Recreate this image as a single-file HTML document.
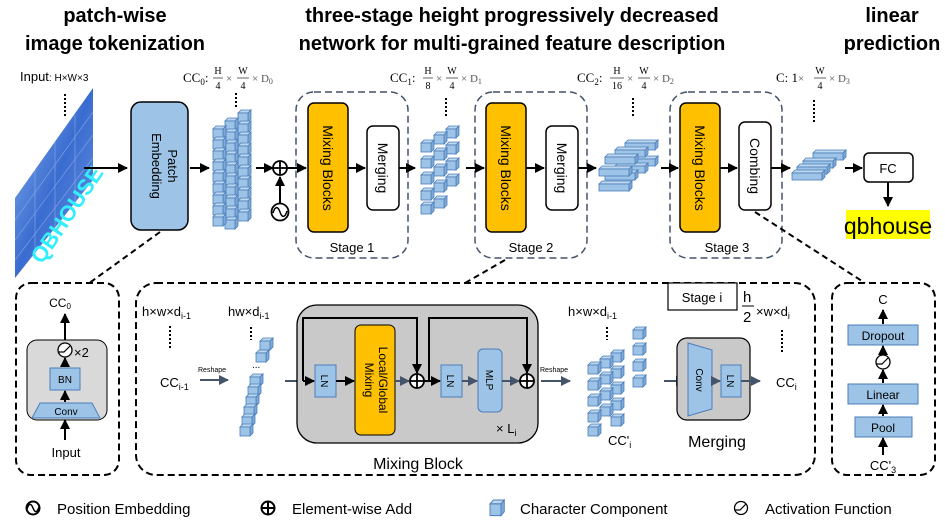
<!DOCTYPE html>
<html><head><meta charset="utf-8"><style>
html,body{margin:0;padding:0;background:#fff;}
svg{display:block;font-family:"Liberation Sans",sans-serif;}
.s{font-family:"Liberation Serif",serif;}
</style></head><body>
<svg width="945" height="525" viewBox="0 0 945 525" xmlns="http://www.w3.org/2000/svg">
<defs>
<marker id="ar" viewBox="0 0 10 10" refX="9" refY="5" markerWidth="5" markerHeight="5" orient="auto"><path d="M0,0L10,5L0,10z" fill="#000"/></marker>
<marker id="ag" viewBox="0 0 10 10" refX="9" refY="5" markerWidth="5" markerHeight="5" orient="auto"><path d="M0,0L10,5L0,10z" fill="#44546a"/></marker>
<g id="cb"><polygon points="0,3 3,0 13,0 10,3" fill="#bdd7ee" stroke="#4a7ebb" stroke-width="0.8"/><polygon points="10,3 13,0 13,9 10,12" fill="#7fa9d6" stroke="#4a7ebb" stroke-width="0.8"/><rect x="0" y="3" width="10" height="9" fill="#9dc3e6" stroke="#4a7ebb" stroke-width="0.8"/></g>
<g id="br"><polygon points="0,3 3,0 33,0 30,3" fill="#bdd7ee" stroke="#4a7ebb" stroke-width="0.8"/><polygon points="30,3 33,0 33,7 30,10" fill="#7fa9d6" stroke="#4a7ebb" stroke-width="0.8"/><rect x="0" y="3" width="30" height="7" fill="#9dc3e6" stroke="#4a7ebb" stroke-width="0.8"/></g>
<linearGradient id="ig" x1="0" y1="0" x2="1" y2="1"><stop offset="0" stop-color="#8ab4ee"/><stop offset="0.5" stop-color="#3a6cd0"/><stop offset="1" stop-color="#6d96e0"/></linearGradient>
</defs>

<g font-weight="bold" font-size="20" text-anchor="middle" fill="#000">
<text x="115" y="22">patch-wise</text>
<text x="115" y="50">image tokenization</text>
<text x="512" y="22">three-stage height progressively decreased</text>
<text x="512" y="50">network for multi-grained feature description</text>
<text x="892" y="22">linear</text>
<text x="892" y="50">prediction</text>
</g>

<text x="20" y="81" font-size="13">Input<tspan font-size="10">: H×W×3</tspan></text>
<line x1="65" y1="94" x2="65" y2="117" stroke="#000" stroke-width="2" stroke-dasharray="2,2"/>
<polygon points="15,198 93,88 93,180 15,278" fill="url(#ig)"/>
<g stroke="#a8c4ef" stroke-width="0.6" opacity="0.7"><line x1="15" y1="220" x2="93" y2="112"/><line x1="15" y1="240" x2="93" y2="135"/><line x1="15" y1="260" x2="93" y2="158"/><line x1="35" y1="170" x2="35" y2="255"/><line x1="55" y1="142" x2="55" y2="230"/><line x1="75" y1="115" x2="75" y2="205"/></g>
<text x="0" y="0" font-size="22" font-weight="bold" fill="#33eeff" transform="translate(42,265) rotate(-56)">QBHOUSE</text>
<line x1="84" y1="168" x2="127" y2="168" stroke="#000" stroke-width="2" marker-end="url(#ar)"/>

<rect x="131" y="102" width="57" height="128" rx="10" fill="#9dc3e6" stroke="#000" stroke-width="1.5"/>
<g font-size="13" text-anchor="middle"><text transform="translate(162,166) rotate(90)" y="-6">Patch</text><text transform="translate(162,166) rotate(90)" y="10">Embedding</text></g>
<line x1="190" y1="168" x2="209" y2="168" stroke="#000" stroke-width="2" marker-end="url(#ar)"/>

<g class="s" font-size="13"><text x="183" y="82">CC<tspan font-size="9" dy="3">0</tspan><tspan dy="-3">:</tspan></text>
<text x="218" y="74" font-size="10" text-anchor="middle">H</text><line x1="213" y1="78" x2="223" y2="78" stroke="#000" stroke-width="0.6"/><text x="218" y="89" font-size="10" text-anchor="middle">4</text>
<text x="226" y="82" font-size="11" fill="#555">×</text>
<text x="243" y="74" font-size="10" text-anchor="middle">W</text><line x1="237" y1="78" x2="249" y2="78" stroke="#000" stroke-width="0.6"/><text x="243" y="89" font-size="10" text-anchor="middle">4</text>
<text x="252" y="82" font-size="11" fill="#555">× D<tspan font-size="8" dy="2">0</tspan></text></g>
<line x1="236" y1="93" x2="236" y2="108" stroke="#000" stroke-width="2" stroke-dasharray="2,2"/>
<g>
<use href="#cb" x="238" y="110"/><use href="#cb" x="238" y="121"/><use href="#cb" x="238" y="132"/><use href="#cb" x="238" y="143"/><use href="#cb" x="238" y="154"/><use href="#cb" x="238" y="165"/><use href="#cb" x="238" y="176"/><use href="#cb" x="238" y="187"/><use href="#cb" x="238" y="198"/><use href="#cb" x="238" y="209"/>
<use href="#cb" x="225" y="118"/><use href="#cb" x="225" y="129"/><use href="#cb" x="225" y="140"/><use href="#cb" x="225" y="151"/><use href="#cb" x="225" y="162"/><use href="#cb" x="225" y="173"/><use href="#cb" x="225" y="184"/><use href="#cb" x="225" y="195"/><use href="#cb" x="225" y="206"/><use href="#cb" x="225" y="217"/>
<use href="#cb" x="213" y="126"/><use href="#cb" x="213" y="137"/><use href="#cb" x="213" y="148"/><use href="#cb" x="213" y="159"/><use href="#cb" x="213" y="170"/><use href="#cb" x="213" y="181"/><use href="#cb" x="213" y="192"/><use href="#cb" x="213" y="203"/><use href="#cb" x="213" y="214"/>
</g>
<line x1="256" y1="168" x2="273" y2="168" stroke="#000" stroke-width="2" marker-end="url(#ar)"/>
<circle cx="280" cy="168" r="7" fill="#fff" stroke="#000" stroke-width="1.8"/><line x1="273" y1="168" x2="287" y2="168" stroke="#000" stroke-width="1.8"/><line x1="280" y1="161" x2="280" y2="175" stroke="#000" stroke-width="1.8"/>
<circle cx="280" cy="212" r="8.5" fill="#fff" stroke="#000" stroke-width="1.8"/><path d="M273,213 C275,206 278,206 280,212 C282,218 285,218 287,211" fill="none" stroke="#000" stroke-width="1.5"/>
<line x1="280" y1="203" x2="280" y2="177" stroke="#000" stroke-width="2" marker-end="url(#ar)"/>
<line x1="287" y1="168" x2="306" y2="168" stroke="#000" stroke-width="2" marker-end="url(#ar)"/>

<g fill="none" stroke="#44546a" stroke-width="1.5" stroke-dasharray="7,4">
<rect x="296" y="92" width="112" height="166" rx="18"/>
<rect x="475" y="92" width="112" height="166" rx="18"/>
<rect x="670" y="92" width="112" height="166" rx="18"/>
</g>
<g fill="#ffc000" stroke="#000" stroke-width="1.5">
<rect x="308" y="103" width="40" height="129" rx="6"/>
<rect x="486" y="103" width="40" height="129" rx="6"/>
<rect x="680" y="103" width="40" height="129" rx="6"/>
</g>
<g fill="#fff" stroke="#000" stroke-width="1.5">
<rect x="367" y="126" width="32" height="84" rx="6"/>
<rect x="546" y="126" width="32" height="84" rx="6"/>
<rect x="739" y="122" width="32" height="88" rx="6"/>
</g>
<g font-size="14" text-anchor="middle">
<text transform="translate(328,168) rotate(90)" y="5">Mixing  Blocks</text>
<text transform="translate(506,168) rotate(90)" y="5">Mixing  Blocks</text>
<text transform="translate(700,168) rotate(90)" y="5">Mixing  Blocks</text>
<text transform="translate(383,168) rotate(90)" y="5">Merging</text>
<text transform="translate(562,168) rotate(90)" y="5">Merging</text>
<text transform="translate(755,166) rotate(90)" y="5">Combing</text>
<text x="352" y="252" font-size="13">Stage 1</text>
<text x="531" y="252" font-size="13">Stage 2</text>
<text x="727" y="252" font-size="13">Stage 3</text>
</g>
<g stroke="#000" stroke-width="2">
<line x1="348" y1="168" x2="365" y2="168" marker-end="url(#ar)"/>
<line x1="399" y1="168" x2="415" y2="168" marker-end="url(#ar)"/>
<line x1="466" y1="168" x2="484" y2="168" marker-end="url(#ar)"/>
<line x1="526" y1="168" x2="544" y2="168" marker-end="url(#ar)"/>
<line x1="578" y1="168" x2="596" y2="168" marker-end="url(#ar)"/>
<line x1="661" y1="168" x2="678" y2="168" marker-end="url(#ar)"/>
<line x1="720" y1="168" x2="737" y2="168" marker-end="url(#ar)"/>
<line x1="771" y1="168" x2="790" y2="168" marker-end="url(#ar)"/>
<line x1="845" y1="168" x2="862" y2="168" marker-end="url(#ar)"/>
<line x1="888" y1="182" x2="888" y2="206" marker-end="url(#ar)"/>
</g>

<g class="s" font-size="13"><text x="390" y="82">CC<tspan font-size="9" dy="3">1</tspan><tspan dy="-3">:</tspan></text>
<text x="428" y="74" font-size="10" text-anchor="middle">H</text><line x1="423" y1="78" x2="433" y2="78" stroke="#000" stroke-width="0.6"/><text x="428" y="89" font-size="10" text-anchor="middle">8</text>
<text x="436" y="82" font-size="11" fill="#555">×</text>
<text x="452" y="74" font-size="10" text-anchor="middle">W</text><line x1="446" y1="78" x2="458" y2="78" stroke="#000" stroke-width="0.6"/><text x="452" y="89" font-size="10" text-anchor="middle">4</text>
<text x="461" y="82" font-size="11" fill="#555">× D<tspan font-size="8" dy="2">1</tspan></text></g>
<line x1="446" y1="98" x2="446" y2="117" stroke="#000" stroke-width="2" stroke-dasharray="2,2"/>
<g>
<use href="#cb" x="446" y="126"/><use href="#cb" x="446" y="142"/><use href="#cb" x="446" y="158"/><use href="#cb" x="446" y="174"/>
<use href="#cb" x="434" y="132"/><use href="#cb" x="434" y="148"/><use href="#cb" x="434" y="164"/><use href="#cb" x="434" y="180"/><use href="#cb" x="434" y="196"/>
<use href="#cb" x="421" y="140"/><use href="#cb" x="421" y="156"/><use href="#cb" x="421" y="172"/><use href="#cb" x="421" y="188"/><use href="#cb" x="421" y="202"/>
</g>

<g class="s" font-size="13"><text x="577" y="82">CC<tspan font-size="9" dy="3">2</tspan><tspan dy="-3">:</tspan></text>
<text x="617" y="74" font-size="10" text-anchor="middle">H</text><line x1="610" y1="78" x2="624" y2="78" stroke="#000" stroke-width="0.6"/><text x="617" y="89" font-size="10" text-anchor="middle">16</text>
<text x="627" y="82" font-size="11" fill="#555">×</text>
<text x="644" y="74" font-size="10" text-anchor="middle">W</text><line x1="638" y1="78" x2="650" y2="78" stroke="#000" stroke-width="0.6"/><text x="644" y="89" font-size="10" text-anchor="middle">4</text>
<text x="653" y="82" font-size="11" fill="#555">× D<tspan font-size="8" dy="2">2</tspan></text></g>
<line x1="633" y1="98" x2="633" y2="118" stroke="#000" stroke-width="2" stroke-dasharray="2,2"/>
<g>
<use href="#br" x="625" y="140"/><use href="#br" x="625" y="156"/>
<use href="#br" x="615" y="147"/><use href="#br" x="615" y="163"/>
<use href="#br" x="605" y="154"/><use href="#br" x="605" y="170"/>
<use href="#br" x="599" y="166"/><use href="#br" x="599" y="181"/>
</g>

<g class="s" font-size="13"><text x="776" y="82">C: 1<tspan font-size="11" fill="#555">×</tspan></text>
<text x="820" y="74" font-size="10" text-anchor="middle">W</text><line x1="814" y1="78" x2="826" y2="78" stroke="#000" stroke-width="0.6"/><text x="820" y="89" font-size="10" text-anchor="middle">4</text>
<text x="829" y="82" font-size="11" fill="#555">× D<tspan font-size="8" dy="2">3</tspan></text></g>
<line x1="814" y1="100" x2="814" y2="124" stroke="#000" stroke-width="2" stroke-dasharray="2,2"/>
<g><use href="#br" x="813" y="150"/><use href="#br" x="803" y="158"/><use href="#br" x="797" y="164"/><use href="#br" x="792" y="170"/></g>

<rect x="864" y="153" width="49" height="29" rx="5" fill="#fff" stroke="#000" stroke-width="1.5"/>
<text x="888" y="173" font-size="13" text-anchor="middle">FC</text>
<rect x="846" y="210" width="84" height="29" fill="#ffff00"/>
<text x="888" y="234" font-size="23" text-anchor="middle">qbhouse</text>

<g stroke="#000" stroke-width="2" stroke-dasharray="6,4" fill="none">
<line x1="160" y1="232" x2="88" y2="284"/>
<line x1="505" y1="260" x2="465" y2="283"/>
<line x1="755" y1="212" x2="865" y2="283"/>
</g>

<g fill="none" stroke="#000" stroke-width="2" stroke-dasharray="7,4">
<rect x="16" y="283" width="103" height="192" rx="15"/>
<rect x="136" y="283" width="679" height="192" rx="20"/>
<rect x="832" y="283" width="103" height="192" rx="15"/>
</g>

<text x="60" y="307" font-size="12" text-anchor="middle">CC<tspan font-size="8" dy="2">0</tspan></text>
<rect x="27" y="340" width="80" height="80" rx="10" fill="#d9d9d9" stroke="#000" stroke-width="1"/>
<line x1="65" y1="340" x2="65" y2="314" stroke="#000" stroke-width="2" marker-end="url(#ar)"/>
<circle cx="65" cy="350" r="7" fill="#fff" stroke="#000" stroke-width="1.3"/><path d="M58,352 L64,352 L70,346" fill="none" stroke="#000" stroke-width="1.2"/>
<text x="74" y="357" font-size="13">×2</text>
<rect x="50" y="368" width="30" height="22" fill="#9dc3e6" stroke="#4a7ebb"/>
<text x="65" y="383" font-size="10" text-anchor="middle">BN</text>
<polygon points="32,418 100,418 92,403 40,403" fill="#9dc3e6" stroke="#4a7ebb"/>
<text x="66" y="415" font-size="10" text-anchor="middle">Conv</text>
<g stroke="#000" stroke-width="2"><line x1="65" y1="367" x2="65" y2="358" marker-end="url(#ar)"/><line x1="65" y1="402" x2="65" y2="391" marker-end="url(#ar)"/><line x1="65" y1="440" x2="65" y2="420" marker-end="url(#ar)"/></g>
<text x="66" y="457" font-size="13" text-anchor="middle">Input</text>

<text x="142" y="316" font-size="13">h×w×d<tspan font-size="9" dy="3">i-1</tspan></text>
<text x="228" y="316" font-size="13">hw×d<tspan font-size="9" dy="3">i-1</tspan></text>
<line x1="170" y1="326" x2="170" y2="350" stroke="#000" stroke-width="2" stroke-dasharray="2,2"/>
<line x1="251" y1="327" x2="251" y2="340" stroke="#000" stroke-width="2" stroke-dasharray="2,2"/>
<text x="160" y="387" font-size="13">CC<tspan font-size="9" dy="3">i-1</tspan></text>
<text x="198" y="372" font-size="7">Reshape</text>
<line x1="200" y1="380" x2="228" y2="380" stroke="#44546a" stroke-width="2" marker-end="url(#ag)"/>
<g><use href="#cb" x="260" y="338"/><use href="#cb" x="256" y="350"/><text x="252" y="368" font-size="10">...</text>
<use href="#cb" x="250" y="374"/><use href="#cb" x="248" y="384"/><use href="#cb" x="246" y="394"/><use href="#cb" x="244" y="404"/><use href="#cb" x="242" y="414"/><use href="#cb" x="240" y="424"/></g>
<line x1="285" y1="381" x2="298" y2="381" stroke="#44546a" stroke-width="2"/>

<rect x="297" y="305" width="241" height="138" rx="20" fill="#c9c9c9" stroke="#000" stroke-width="1.3"/>
<text x="418" y="469" font-size="16" text-anchor="middle">Mixing Block</text>
<rect x="315" y="365" width="21" height="32" fill="#9dc3e6" stroke="#4a7ebb"/>
<text transform="translate(325,381) rotate(90)" y="4" font-size="10" text-anchor="middle">LN</text>
<rect x="355" y="325" width="40" height="110" rx="6" fill="#ffc000" stroke="#000" stroke-width="1"/>
<text transform="translate(375,380) rotate(90)" font-size="12" text-anchor="middle"><tspan x="0" y="-4">Local/Global</tspan><tspan x="0" y="10">Mixing</tspan></text>
<rect x="441" y="365" width="21" height="32" fill="#9dc3e6" stroke="#4a7ebb"/>
<text transform="translate(451,381) rotate(90)" y="4" font-size="10" text-anchor="middle">LN</text>
<rect x="478" y="349" width="24" height="63" rx="5" fill="#9dc3e6" stroke="#4a7ebb"/>
<text transform="translate(490,380) rotate(90)" y="4" font-size="10" text-anchor="middle">MLP</text>
<g stroke="#000" stroke-width="2" fill="none">
<polyline points="303,381 303,318 417,318 417,373" marker-end="url(#ar)"/>
<polyline points="429,381 429,318 527,318 527,373" marker-end="url(#ar)"/>
<line x1="303" y1="381" x2="314" y2="381" marker-end="url(#ar)"/>
<line x1="336" y1="381" x2="354" y2="381" marker-end="url(#ar)"/>
<line x1="424" y1="381" x2="440" y2="381" marker-end="url(#ar)"/>
</g>
<g stroke="#44546a" stroke-width="2"><line x1="395" y1="381" x2="409" y2="381" marker-end="url(#ag)"/><line x1="462" y1="381" x2="477" y2="381" marker-end="url(#ag)"/><line x1="502" y1="381" x2="519" y2="381" marker-end="url(#ag)"/></g>
<g fill="#fff" stroke="#000" stroke-width="1.8">
<circle cx="417" cy="381" r="7"/><circle cx="527" cy="381" r="7"/>
</g>
<g stroke="#000" stroke-width="1.8"><line x1="410" y1="381" x2="424" y2="381"/><line x1="417" y1="374" x2="417" y2="388"/><line x1="520" y1="381" x2="534" y2="381"/><line x1="527" y1="374" x2="527" y2="388"/></g>
<text x="496" y="433" font-size="13">× L<tspan font-size="9" dy="3">i</tspan></text>

<text x="540" y="372" font-size="7">Reshape</text>
<line x1="541" y1="381" x2="570" y2="381" stroke="#44546a" stroke-width="2" marker-end="url(#ag)"/>
<text x="568" y="316" font-size="13">h×w×d<tspan font-size="9" dy="3">i-1</tspan></text>
<line x1="607" y1="327" x2="607" y2="340" stroke="#000" stroke-width="2" stroke-dasharray="2,2"/>
<g>
<use href="#cb" x="633" y="327"/><use href="#cb" x="633" y="343"/><use href="#cb" x="633" y="359"/><use href="#cb" x="633" y="375"/>
<use href="#cb" x="611" y="350"/><use href="#cb" x="611" y="366"/><use href="#cb" x="611" y="382"/><use href="#cb" x="611" y="398"/><use href="#cb" x="611" y="414"/>
<use href="#cb" x="600" y="356"/><use href="#cb" x="600" y="372"/><use href="#cb" x="600" y="388"/><use href="#cb" x="600" y="404"/>
<use href="#cb" x="588" y="362"/><use href="#cb" x="588" y="378"/><use href="#cb" x="588" y="394"/><use href="#cb" x="588" y="410"/><use href="#cb" x="588" y="424"/>
</g>
<text x="608" y="445" font-size="13">CC'<tspan font-size="9" dy="3">i</tspan></text>
<rect x="668" y="283" width="69" height="27" fill="#fff" stroke="#000" stroke-width="1.2"/>
<text x="702" y="302" font-size="13" text-anchor="middle">Stage i</text>
<text x="743" y="302" font-size="15">h</text><line x1="742" y1="306" x2="754" y2="306" stroke="#000"/><text x="743" y="322" font-size="15">2</text>
<text x="756" y="316" font-size="13">×w×d<tspan font-size="9" dy="3">i</tspan></text>
<line x1="782" y1="330" x2="782" y2="352" stroke="#000" stroke-width="2" stroke-dasharray="2,2"/>
<line x1="664" y1="381" x2="685" y2="381" stroke="#44546a" stroke-width="2" marker-end="url(#ag)"/>
<rect x="677" y="338" width="73" height="82" rx="10" fill="#c9c9c9" stroke="#000" stroke-width="1.2"/>
<polygon points="688,343 712,350 712,409 688,416" fill="#9dc3e6" stroke="#4a7ebb"/>
<text transform="translate(700,380) rotate(90)" y="4" font-size="10" text-anchor="middle">Conv</text>
<rect x="721" y="365" width="20" height="32" fill="#9dc3e6" stroke="#4a7ebb"/>
<text transform="translate(731,381) rotate(90)" y="4" font-size="10" text-anchor="middle">LN</text>
<g stroke="#44546a" stroke-width="2"><line x1="712" y1="381" x2="720" y2="381" marker-end="url(#ag)"/><line x1="741" y1="381" x2="760" y2="381" marker-end="url(#ag)"/></g>
<text x="717" y="447" font-size="16" text-anchor="middle">Merging</text>
<text x="776" y="387" font-size="13">CC<tspan font-size="9" dy="3">i</tspan></text>

<text x="883" y="304" font-size="13" text-anchor="middle">C</text>
<rect x="848" y="325" width="70" height="20" fill="#9dc3e6" stroke="#4a7ebb"/>
<text x="883" y="340" font-size="12" text-anchor="middle">Dropout</text>
<circle cx="883" cy="362" r="7" fill="#fff" stroke="#000" stroke-width="1.3"/><path d="M876,364 L882,364 L888,358" fill="none" stroke="#000" stroke-width="1.2"/>
<rect x="848" y="384" width="70" height="20" fill="#9dc3e6" stroke="#4a7ebb"/>
<text x="883" y="399" font-size="12" text-anchor="middle">Linear</text>
<rect x="855" y="417" width="57" height="20" fill="#9dc3e6" stroke="#4a7ebb"/>
<text x="883" y="432" font-size="12" text-anchor="middle">Pool</text>
<g stroke="#000" stroke-width="2"><line x1="883" y1="324" x2="883" y2="310" marker-end="url(#ar)"/><line x1="883" y1="354" x2="883" y2="346" marker-end="url(#ar)"/><line x1="883" y1="383" x2="883" y2="370" marker-end="url(#ar)"/><line x1="883" y1="416" x2="883" y2="405" marker-end="url(#ar)"/><line x1="883" y1="455" x2="883" y2="438" marker-end="url(#ar)"/></g>
<text x="883" y="470" font-size="13" text-anchor="middle">CC'<tspan font-size="9" dy="3">3</tspan></text>

<circle cx="33" cy="508" r="6.5" fill="none" stroke="#000" stroke-width="2"/><path d="M27,509 C29,503 31,503 33,508 C35,513 37,513 39,507" fill="none" stroke="#000" stroke-width="1.5"/>
<text x="57" y="514" font-size="15">Position Embedding</text>
<circle cx="268" cy="508" r="6.5" fill="none" stroke="#000" stroke-width="2"/><line x1="261" y1="508" x2="275" y2="508" stroke="#000" stroke-width="2"/><line x1="268" y1="501" x2="268" y2="515" stroke="#000" stroke-width="2"/>
<text x="292" y="514" font-size="15">Element-wise Add</text>
<g transform="translate(490,500) scale(1.1,1.3)"><use href="#cb" x="0" y="0"/></g>
<text x="520" y="514" font-size="15">Character Component</text>
<circle cx="741" cy="508" r="6.5" fill="none" stroke="#000" stroke-width="1.3"/><path d="M735,510 L740,510 L746,504" fill="none" stroke="#000" stroke-width="1.2"/>
<text x="765" y="514" font-size="15">Activation Function</text>
</svg>
</body></html>
